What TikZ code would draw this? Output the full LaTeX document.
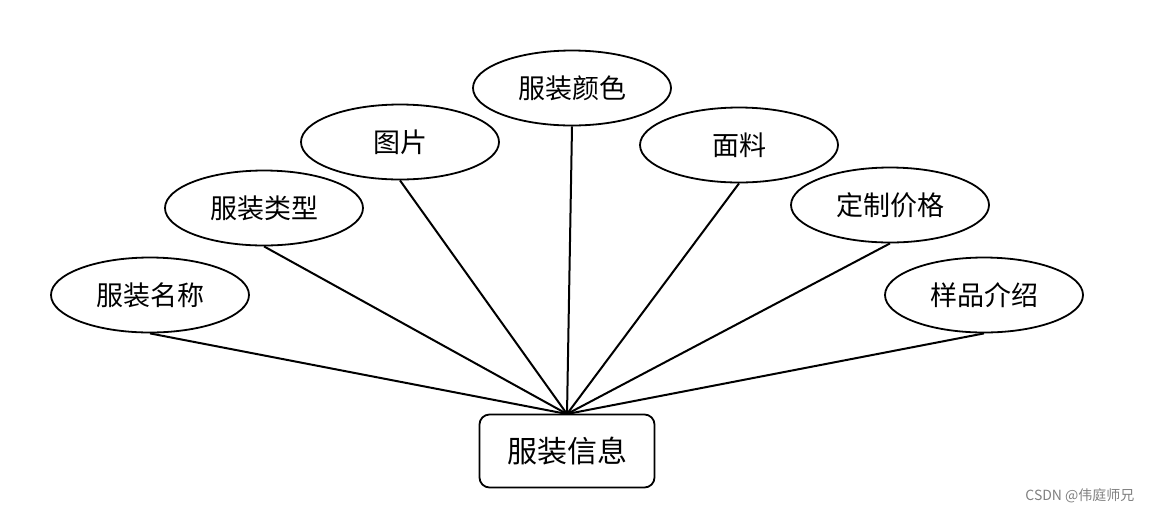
\documentclass[tikz,border=0pt]{standalone}
\usepackage{fontspec}
\newfontfamily\cjk{Noto Sans CJK SC}
\usetikzlibrary{shapes.geometric}
\begin{document}
\begin{tikzpicture}[x=1pt,y=-1pt,
 attr/.style={draw,line width=1.8pt,ellipse,minimum width=198pt,minimum height=75pt,font=\cjk\fontsize{27}{27}\selectfont,inner sep=0pt},
 ent/.style={draw,line width=1.8pt,rounded corners=10pt,minimum width=175pt,minimum height=73pt,font=\cjk\fontsize{30}{30}\selectfont},
 link/.style={line width=2pt}]
\useasboundingbox (0,0) rectangle (1150,515);
\node[attr] (a1) at (150,295) {服装名称};
\node[attr] (a2) at (264,208) {服装类型};
\node[attr] (a3) at (400,142) {图片};
\node[attr] (a4) at (572,88) {服装颜色};
\node[attr] (a5) at (739,145) {面料};
\node[attr] (a6) at (890,205) {定制价格};
\node[attr] (a7) at (984,295) {样品介绍};
\node[ent] (e) at (567,451) {服装信息};
\coordinate (t) at (567,414);
\foreach \n in {a1,a2,a3,a4,a5,a6,a7} \draw[link] (\n.south) -- (t);
\node[font=\cjk\fontsize{14}{14}\selectfont,text=gray,anchor=east] (w) at (1138,496) {CSDN @伟庭师兄};
\end{tikzpicture}
\end{document}
